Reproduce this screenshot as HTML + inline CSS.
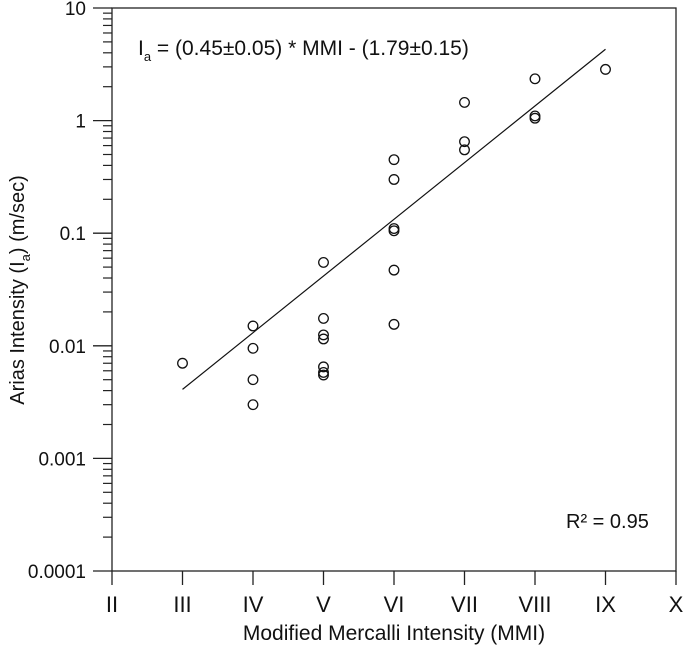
<!DOCTYPE html>
<html><head><meta charset="utf-8"><style>
body{margin:0;background:#fff;font-family:"Liberation Sans",Arial,sans-serif}
svg text{font-family:"Liberation Sans",Arial,sans-serif;fill:#111}
</style></head><body>
<svg id="c" width="685" height="648" viewBox="0 0 685 648"></svg>
<script>
const xLabels=["II","III","IV","V","VI","VII","VIII","IX","X"];
const yTicks=[0.0001,0.001,0.01,0.1,1,10];
const yTickLabels=["0.0001","0.001","0.01","0.1","1","10"];
const pointsMMI=[3,4,4,4,4,5,5,5,5,5,5,5,6,6,6,6,6,6,7,7,7,8,8,8,9];
const pointsIa=[0.007,0.015,0.0095,0.005,0.003,0.055,0.0175,0.0125,0.0115,0.0065,0.0058,0.0055,0.45,0.3,0.11,0.105,0.047,0.0155,1.45,0.65,0.55,2.35,1.1,1.05,2.85];
const fitMMI=[3,9];
const fitIa=[0.0041,4.3];
const L=112,R=676,T=8,B=571;
const X=m=>L+(m-2)*(R-L)/8;
const Y=v=>B-(Math.log10(v)+4)*(B-T)/5;
const svg=document.getElementById('c');const NS='http://www.w3.org/2000/svg';
function mk(t,a,txt){const e=document.createElementNS(NS,t);for(const k in a)e.setAttribute(k,a[k]);if(txt!==undefined)e.textContent=txt;svg.appendChild(e);return e;}
let e=mk('rect',{x:L,y:T,width:R-L,height:B-T,fill:'none',stroke:'#222','stroke-width':1.3});


yTicks.forEach((v,i)=>{
 e=mk('line',{x1:93,x2:L,y1:Y(v),y2:Y(v),stroke:'#222','stroke-width':1.3});
 
 
 e=mk('text',{x:86,y:Y(v)+7,'text-anchor':'end','font-size':19},yTickLabels[i]);
 
 
 if(i<yTicks.length-1){for(let k=2;k<10;k++){const y=Y(v*k);
  e=mk('line',{x1:103,x2:L,y1:y,y2:y,stroke:'#222','stroke-width':1.2});
  
  }}
});
xLabels.forEach((s,i)=>{const x=X(i+2);
 e=mk('line',{x1:x,x2:x,y1:B,y2:B+14,stroke:'#222','stroke-width':1.3});
 
 
 e=mk('text',{x:x,y:612,'text-anchor':'middle','font-size':22},s);
 
 
});
e=mk('line',{x1:X(fitMMI[0]),y1:Y(fitIa[0]),x2:X(fitMMI[1]),y2:Y(fitIa[1]),stroke:'#111','stroke-width':1.2});


pointsMMI.forEach((m,i)=>{
 e=mk('circle',{cx:X(m),cy:Y(pointsIa[i]),r:4.8,fill:'none',stroke:'#111','stroke-width':1.3});
 
 
});
</script>
<svg style="position:absolute;left:0;top:0" width="685" height="648">
<text x="138" y="55" font-size="21">I<tspan font-size="13" dy="6">a</tspan><tspan dy="-6"> = (0.45±0.05) * MMI - (1.79±0.15)</tspan></text>
<text x="566" y="528" font-size="20">R² = 0.95</text>
<text x="394" y="640" font-size="21" text-anchor="middle">Modified Mercalli Intensity (MMI)</text>
<text transform="translate(24,290) rotate(-90)" font-size="20" text-anchor="middle">Arias Intensity (I<tspan font-size="13" dy="6">a</tspan><tspan dy="-6">) (m/sec)</tspan></text>
</svg>
</body></html>
